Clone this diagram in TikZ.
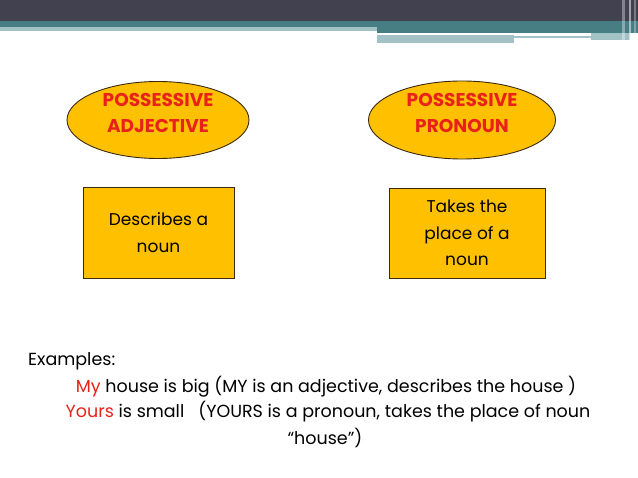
\documentclass[tikz,border=0pt]{standalone}
\usepackage{fontspec}
\setmainfont{Poppins}
\usetikzlibrary{shapes.geometric}
\usetikzlibrary{positioning}
\definecolor{hdark}{HTML}{42414F}
\definecolor{hteal}{HTML}{477E84}
\definecolor{hlight}{HTML}{A3C2C5}
\definecolor{gold}{HTML}{FFC000}
\definecolor{redtxt}{HTML}{E8221A}
\definecolor{edge}{HTML}{3A2A10}

\begin{document}
\begin{tikzpicture}[x=1pt, y=-1pt,
	ovl/.style={draw=edge, line width=0.9pt, ellipse, fill=gold, inner sep=0pt,
	align=center, text=redtxt, text depth=14pt, font=\fontsize{18.5}{26}\selectfont\bfseries},
	bx/.style={draw=edge, line width=0.9pt, rectangle, fill=gold, inner sep=0pt,
	align=center, text depth=0pt, font=\fontsize{17}{26.5}\selectfont},
	ex/.style={font=\fontsize{17.5}{26}\selectfont}]
\useasboundingbox (0,0) rectangle (638,478);
% header bands
\fill[hdark] (0,0) rectangle (638,21);
\fill[hteal] (0,21) rectangle (638,27);
\fill[hteal] (377,27) rectangle (638,33);
\fill[hlight] (0,27) rectangle (377,31);
\fill[hlight] (377,35) rectangle (514,43);
\fill[hlight] (514,36) rectangle (591,38);
\fill[hlight] (591,33) rectangle (630,40);
\fill[white, opacity=0.35] (622,0) rectangle (625,40);
\fill[white, opacity=0.5] (629,0) rectangle (631,40);
\fill[white, opacity=0.3] (634,0) rectangle (636,40);
% ovals
\node[ovl, minimum width=182pt, minimum height=77pt] (0) at (158,120) {POSSESSIVE\\ADJECTIVE};
\node[ovl, minimum width=187pt, minimum height=78pt] (1) at (462,120) {POSSESSIVE\\PRONOUN};
% boxes
\node[bx, minimum width=151pt, minimum height=91pt] (2) at (158.5,232.5) {Describes a\\noun};
\node[bx, minimum width=156pt, minimum height=90pt] (3) at (467,233) {Takes the\\place of a\\noun};
% examples
\node[ex, anchor=west, inner sep=0pt] (4) at (28,361) {Examples:};
\node[ex] (5) at (326,387) {\textcolor{redtxt}{My} house is big (MY is an adjective, describes the house )};
\node[ex] (6) at (328,412) {\textcolor{redtxt}{Yours} is small\ \ \ (YOURS is a pronoun, takes the place of noun};
\node[ex] (7) at (325,438) {“house”)};
\end{tikzpicture}
\end{document}
